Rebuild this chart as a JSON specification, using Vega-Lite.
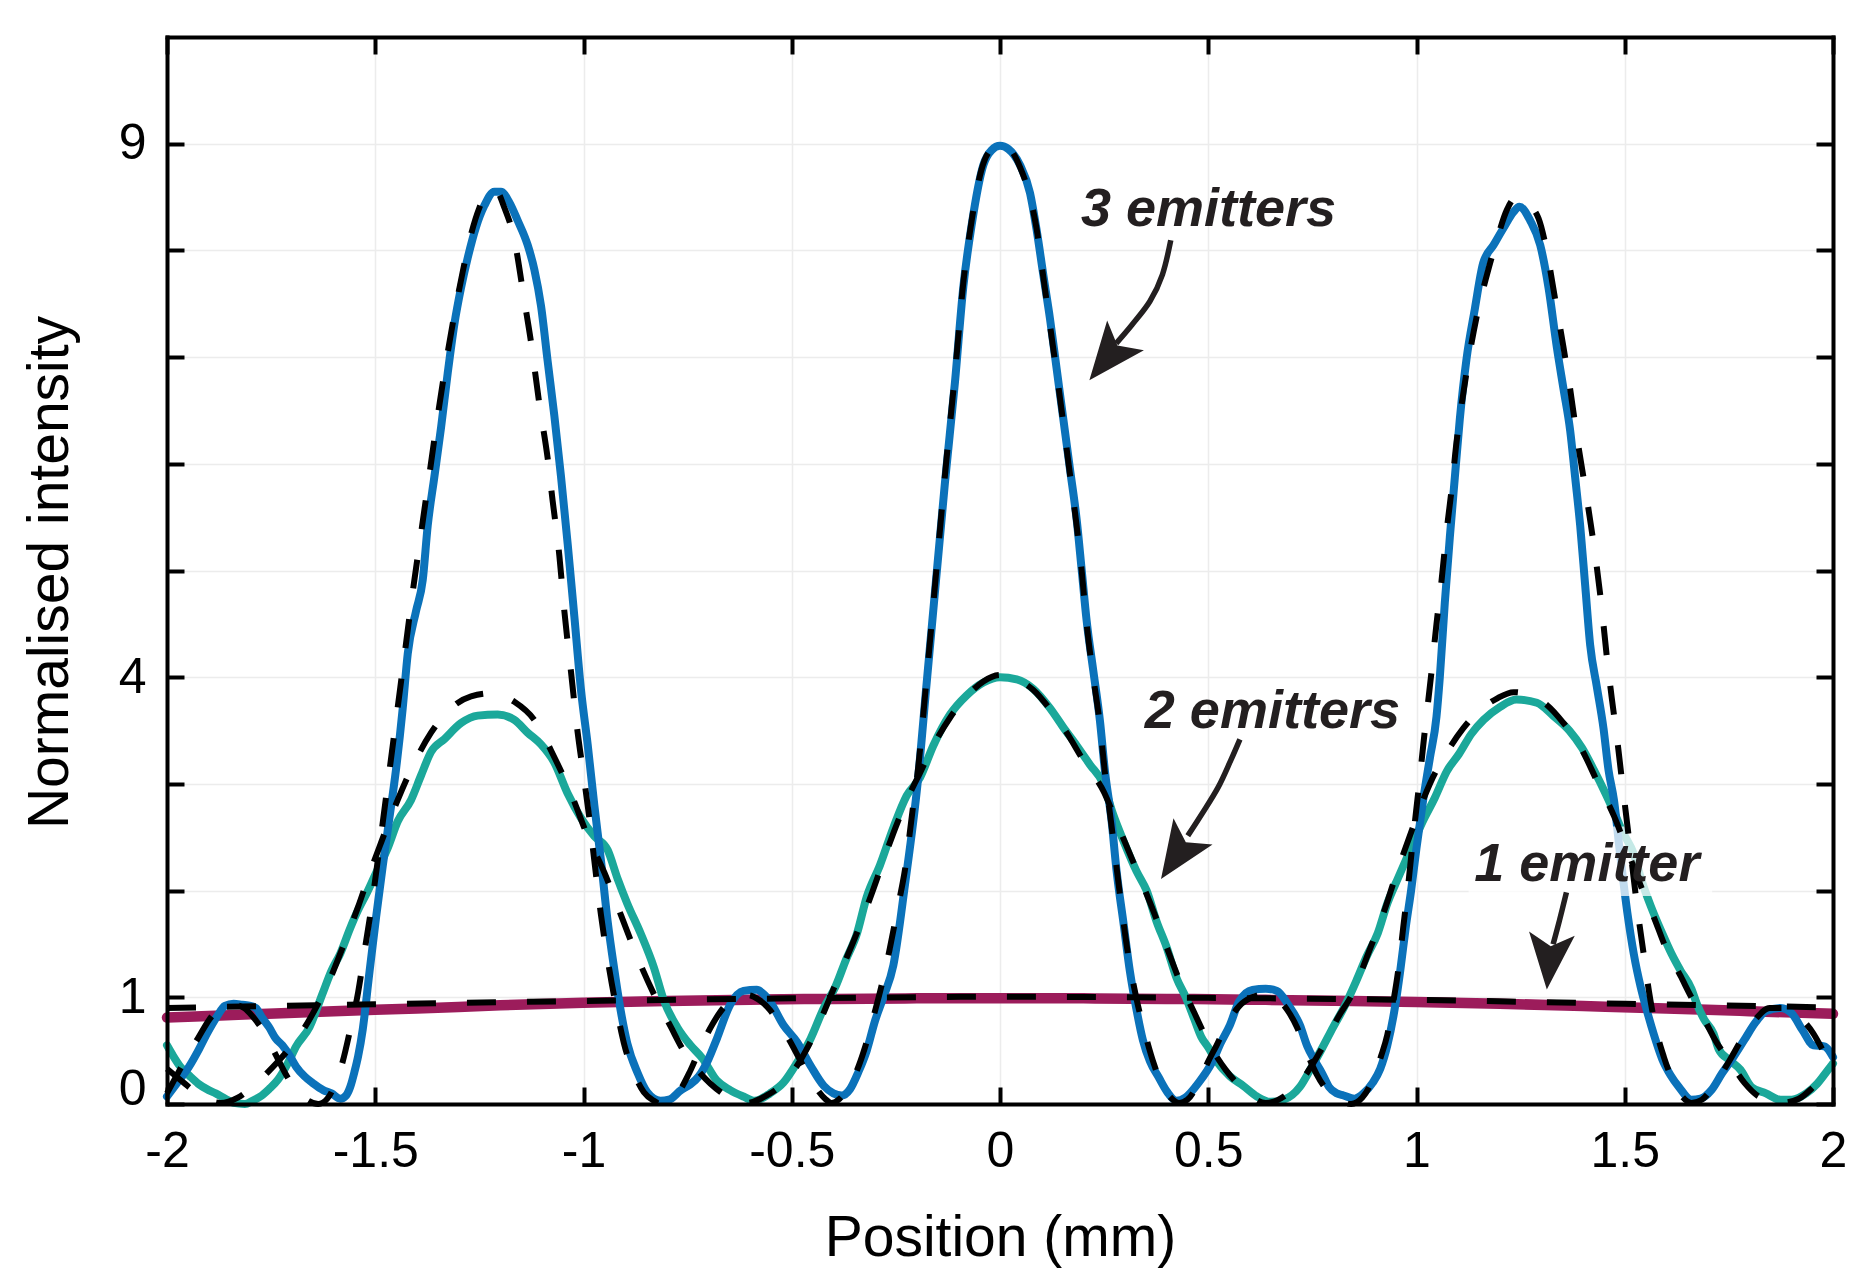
{
"$schema": "https://vega.github.io/schema/vega-lite/v6.json",
"width": 1666, "height": 1067,
"autosize": {"type": "none"},
"padding": {"left": 167, "top": 37, "right": 38, "bottom": 175},
"background": "white",
"config": {"view": {"stroke": null}, "font": "Liberation Sans"},
"datasets": {
"m1": [{"x":-2,"y":0.81},{"x":-1.8,"y":0.84},{"x":-1.6,"y":0.87},{"x":-1.4,"y":0.895},{"x":-1.2,"y":0.925},{"x":-1,"y":0.95},{"x":-0.8,"y":0.965},{"x":-0.6,"y":0.978},{"x":-0.4,"y":0.985},{"x":-0.2,"y":0.99},{"x":0,"y":0.99},{"x":0.2,"y":0.99},{"x":0.4,"y":0.985},{"x":0.6,"y":0.978},{"x":0.8,"y":0.968},{"x":1,"y":0.955},{"x":1.2,"y":0.94},{"x":1.4,"y":0.918},{"x":1.6,"y":0.895},{"x":1.8,"y":0.87},{"x":2,"y":0.845}],
"t1": [{"x":-2,"y":0.9},{"x":-1.5,"y":0.935},{"x":-1,"y":0.965},{"x":-0.5,"y":0.99},{"x":0,"y":1.005},{"x":0.5,"y":0.995},{"x":1,"y":0.975},{"x":1.5,"y":0.94},{"x":2,"y":0.905}],
"m2": [{"x":-2,"y":0.55},{"x":-1.985,"y":0.45},{"x":-1.968,"y":0.35},{"x":-1.945,"y":0.26},{"x":-1.925,"y":0.19},{"x":-1.9,"y":0.13},{"x":-1.883,"y":0.1},{"x":-1.86,"y":0.05},{"x":-1.84,"y":0.01},{"x":-1.813,"y":0},{"x":-1.795,"y":0.03},{"x":-1.776,"y":0.07},{"x":-1.755,"y":0.14},{"x":-1.733,"y":0.23},{"x":-1.71,"y":0.38},{"x":-1.69,"y":0.54},{"x":-1.658,"y":0.72},{"x":-1.626,"y":1.04},{"x":-1.605,"y":1.25},{"x":-1.584,"y":1.41},{"x":-1.56,"y":1.65},{"x":-1.541,"y":1.82},{"x":-1.52,"y":1.98},{"x":-1.5,"y":2.15},{"x":-1.47,"y":2.4},{"x":-1.446,"y":2.65},{"x":-1.414,"y":2.85},{"x":-1.39,"y":3.08},{"x":-1.366,"y":3.3},{"x":-1.334,"y":3.42},{"x":-1.294,"y":3.57},{"x":-1.254,"y":3.64},{"x":-1.206,"y":3.65},{"x":-1.166,"y":3.6},{"x":-1.134,"y":3.48},{"x":-1.102,"y":3.37},{"x":-1.07,"y":3.2},{"x":-1.038,"y":2.91},{"x":-1.006,"y":2.68},{"x":-0.974,"y":2.51},{"x":-0.942,"y":2.38},{"x":-0.918,"y":2.11},{"x":-0.895,"y":1.88},{"x":-0.863,"y":1.6},{"x":-0.831,"y":1.28},{"x":-0.807,"y":0.97},{"x":-0.775,"y":0.72},{"x":-0.743,"y":0.55},{"x":-0.715,"y":0.43},{"x":-0.68,"y":0.22},{"x":-0.648,"y":0.13},{"x":-0.616,"y":0.07},{"x":-0.589,"y":0.03},{"x":-0.552,"y":0.1},{"x":-0.52,"y":0.2},{"x":-0.487,"y":0.39},{"x":-0.455,"y":0.61},{"x":-0.423,"y":0.9},{"x":-0.395,"y":1.1},{"x":-0.37,"y":1.35},{"x":-0.344,"y":1.59},{"x":-0.32,"y":1.94},{"x":-0.288,"y":2.24},{"x":-0.256,"y":2.59},{"x":-0.224,"y":2.89},{"x":-0.192,"y":3.06},{"x":-0.16,"y":3.36},{"x":-0.12,"y":3.65},{"x":-0.08,"y":3.83},{"x":-0.04,"y":3.95},{"x":0,"y":4},{"x":0.04,"y":3.98},{"x":0.08,"y":3.89},{"x":0.12,"y":3.71},{"x":0.152,"y":3.53},{"x":0.184,"y":3.36},{"x":0.216,"y":3.18},{"x":0.248,"y":3},{"x":0.272,"y":2.71},{"x":0.296,"y":2.47},{"x":0.328,"y":2.18},{"x":0.352,"y":2},{"x":0.376,"y":1.71},{"x":0.4,"y":1.47},{"x":0.424,"y":1.18},{"x":0.446,"y":1},{"x":0.466,"y":0.8},{"x":0.483,"y":0.63},{"x":0.5,"y":0.53},{"x":0.52,"y":0.4},{"x":0.552,"y":0.26},{"x":0.584,"y":0.17},{"x":0.617,"y":0.07},{"x":0.649,"y":0.02},{"x":0.681,"y":0.04},{"x":0.72,"y":0.16},{"x":0.746,"y":0.33},{"x":0.773,"y":0.52},{"x":0.8,"y":0.72},{"x":0.828,"y":0.92},{"x":0.855,"y":1.15},{"x":0.88,"y":1.38},{"x":0.907,"y":1.6},{"x":0.93,"y":1.88},{"x":0.956,"y":2.12},{"x":0.985,"y":2.38},{"x":1.014,"y":2.64},{"x":1.044,"y":2.87},{"x":1.073,"y":3.12},{"x":1.102,"y":3.28},{"x":1.132,"y":3.47},{"x":1.161,"y":3.6},{"x":1.2,"y":3.72},{"x":1.24,"y":3.79},{"x":1.289,"y":3.76},{"x":1.328,"y":3.64},{"x":1.367,"y":3.5},{"x":1.397,"y":3.34},{"x":1.426,"y":3.13},{"x":1.455,"y":2.9},{"x":1.475,"y":2.73},{"x":1.495,"y":2.55},{"x":1.522,"y":2.34},{"x":1.54,"y":2.1},{"x":1.563,"y":1.85},{"x":1.59,"y":1.6},{"x":1.612,"y":1.41},{"x":1.634,"y":1.25},{"x":1.66,"y":1.08},{"x":1.673,"y":0.94},{"x":1.691,"y":0.79},{"x":1.713,"y":0.66},{"x":1.726,"y":0.51},{"x":1.752,"y":0.41},{"x":1.778,"y":0.32},{"x":1.804,"y":0.16},{"x":1.839,"y":0.1},{"x":1.874,"y":0.04},{"x":1.901,"y":0.04},{"x":1.936,"y":0.1},{"x":1.962,"y":0.19},{"x":1.988,"y":0.32},{"x":2,"y":0.38}],
"t2": [{"x":-2,"y":0.33},{"x":-1.96,"y":0.2},{"x":-1.92,"y":0.08},{"x":-1.872,"y":0.01},{"x":-1.83,"y":0.06},{"x":-1.787,"y":0.19},{"x":-1.76,"y":0.29},{"x":-1.733,"y":0.4},{"x":-1.7,"y":0.55},{"x":-1.669,"y":0.72},{"x":-1.64,"y":0.92},{"x":-1.61,"y":1.16},{"x":-1.575,"y":1.5},{"x":-1.541,"y":1.85},{"x":-1.51,"y":2.2},{"x":-1.486,"y":2.45},{"x":-1.446,"y":2.85},{"x":-1.406,"y":3.2},{"x":-1.366,"y":3.48},{"x":-1.318,"y":3.71},{"x":-1.27,"y":3.82},{"x":-1.22,"y":3.85},{"x":-1.166,"y":3.77},{"x":-1.118,"y":3.6},{"x":-1.07,"y":3.25},{"x":-1.03,"y":2.91},{"x":-0.99,"y":2.51},{"x":-0.95,"y":2.17},{"x":-0.91,"y":1.77},{"x":-0.87,"y":1.37},{"x":-0.831,"y":1.03},{"x":-0.79,"y":0.72},{"x":-0.76,"y":0.5},{"x":-0.72,"y":0.29},{"x":-0.67,"y":0.11},{"x":-0.61,"y":0.01},{"x":-0.56,"y":0.08},{"x":-0.509,"y":0.24},{"x":-0.466,"y":0.5},{"x":-0.435,"y":0.75},{"x":-0.408,"y":1},{"x":-0.376,"y":1.3},{"x":-0.344,"y":1.6},{"x":-0.31,"y":1.95},{"x":-0.28,"y":2.28},{"x":-0.25,"y":2.6},{"x":-0.22,"y":2.88},{"x":-0.19,"y":3.12},{"x":-0.16,"y":3.36},{"x":-0.12,"y":3.62},{"x":-0.08,"y":3.82},{"x":-0.04,"y":3.96},{"x":0,"y":4.02},{"x":0.04,"y":3.98},{"x":0.08,"y":3.88},{"x":0.12,"y":3.7},{"x":0.16,"y":3.48},{"x":0.2,"y":3.22},{"x":0.25,"y":2.92},{"x":0.28,"y":2.64},{"x":0.31,"y":2.36},{"x":0.34,"y":2.08},{"x":0.375,"y":1.74},{"x":0.405,"y":1.42},{"x":0.435,"y":1.12},{"x":0.466,"y":0.86},{"x":0.5,"y":0.58},{"x":0.542,"y":0.32},{"x":0.584,"y":0.14},{"x":0.638,"y":0.01},{"x":0.692,"y":0.1},{"x":0.72,"y":0.2},{"x":0.75,"y":0.37},{"x":0.78,"y":0.57},{"x":0.81,"y":0.8},{"x":0.848,"y":1.05},{"x":0.88,"y":1.37},{"x":0.92,"y":1.78},{"x":0.952,"y":2.16},{"x":0.992,"y":2.6},{"x":1.032,"y":3},{"x":1.072,"y":3.29},{"x":1.112,"y":3.52},{"x":1.152,"y":3.69},{"x":1.193,"y":3.8},{"x":1.233,"y":3.86},{"x":1.273,"y":3.83},{"x":1.313,"y":3.74},{"x":1.353,"y":3.57},{"x":1.393,"y":3.35},{"x":1.433,"y":3.03},{"x":1.474,"y":2.7},{"x":1.506,"y":2.38},{"x":1.538,"y":2.05},{"x":1.57,"y":1.75},{"x":1.6,"y":1.45},{"x":1.634,"y":1.2},{"x":1.66,"y":1},{"x":1.69,"y":0.8},{"x":1.72,"y":0.58},{"x":1.752,"y":0.4},{"x":1.787,"y":0.2},{"x":1.822,"y":0.07},{"x":1.874,"y":0.01},{"x":1.918,"y":0.05},{"x":1.953,"y":0.16},{"x":1.979,"y":0.26},{"x":2,"y":0.35}],
"m3": [{"x":-2,"y":0.07},{"x":-1.975,"y":0.2},{"x":-1.947,"y":0.35},{"x":-1.925,"y":0.5},{"x":-1.904,"y":0.66},{"x":-1.88,"y":0.82},{"x":-1.861,"y":0.92},{"x":-1.84,"y":0.94},{"x":-1.819,"y":0.93},{"x":-1.8,"y":0.92},{"x":-1.787,"y":0.9},{"x":-1.77,"y":0.8},{"x":-1.755,"y":0.72},{"x":-1.74,"y":0.62},{"x":-1.723,"y":0.55},{"x":-1.705,"y":0.45},{"x":-1.69,"y":0.35},{"x":-1.67,"y":0.26},{"x":-1.648,"y":0.19},{"x":-1.625,"y":0.13},{"x":-1.605,"y":0.1},{"x":-1.584,"y":0.05},{"x":-1.57,"y":0.08},{"x":-1.56,"y":0.16},{"x":-1.55,"y":0.3},{"x":-1.541,"y":0.45},{"x":-1.53,"y":0.7},{"x":-1.515,"y":1.2},{"x":-1.498,"y":1.75},{"x":-1.482,"y":2.23},{"x":-1.466,"y":2.68},{"x":-1.45,"y":3.14},{"x":-1.434,"y":3.71},{"x":-1.422,"y":4.22},{"x":-1.402,"y":4.62},{"x":-1.386,"y":4.91},{"x":-1.374,"y":5.42},{"x":-1.358,"y":5.88},{"x":-1.342,"y":6.34},{"x":-1.326,"y":6.85},{"x":-1.31,"y":7.31},{"x":-1.294,"y":7.65},{"x":-1.278,"y":7.93},{"x":-1.258,"y":8.22},{"x":-1.238,"y":8.42},{"x":-1.214,"y":8.55},{"x":-1.198,"y":8.55},{"x":-1.178,"y":8.45},{"x":-1.158,"y":8.28},{"x":-1.134,"y":8.05},{"x":-1.118,"y":7.82},{"x":-1.102,"y":7.48},{"x":-1.086,"y":6.96},{"x":-1.07,"y":6.45},{"x":-1.054,"y":5.88},{"x":-1.038,"y":5.25},{"x":-1.022,"y":4.57},{"x":-1.006,"y":3.88},{"x":-0.99,"y":3.37},{"x":-0.974,"y":2.8},{"x":-0.958,"y":2.28},{"x":-0.942,"y":1.71},{"x":-0.926,"y":1.26},{"x":-0.91,"y":0.86},{"x":-0.895,"y":0.57},{"x":-0.87,"y":0.29},{"x":-0.847,"y":0.11},{"x":-0.815,"y":0.03},{"x":-0.795,"y":0.04},{"x":-0.766,"y":0.13},{"x":-0.745,"y":0.18},{"x":-0.723,"y":0.26},{"x":-0.7,"y":0.42},{"x":-0.68,"y":0.61},{"x":-0.648,"y":0.93},{"x":-0.616,"y":1.06},{"x":-0.584,"y":1.07},{"x":-0.565,"y":1.02},{"x":-0.552,"y":0.96},{"x":-0.52,"y":0.74},{"x":-0.487,"y":0.58},{"x":-0.455,"y":0.36},{"x":-0.423,"y":0.17},{"x":-0.4,"y":0.1},{"x":-0.38,"y":0.08},{"x":-0.36,"y":0.14},{"x":-0.34,"y":0.3},{"x":-0.32,"y":0.5},{"x":-0.3,"y":0.78},{"x":-0.28,"y":1},{"x":-0.256,"y":1.3},{"x":-0.228,"y":2.06},{"x":-0.198,"y":3},{"x":-0.176,"y":3.95},{"x":-0.154,"y":4.89},{"x":-0.132,"y":5.83},{"x":-0.108,"y":6.77},{"x":-0.088,"y":7.66},{"x":-0.068,"y":8.24},{"x":-0.04,"y":8.8},{"x":-0.02,"y":8.94},{"x":0,"y":8.98},{"x":0.02,"y":8.95},{"x":0.048,"y":8.8},{"x":0.072,"y":8.54},{"x":0.088,"y":8.19},{"x":0.104,"y":7.77},{"x":0.12,"y":7.36},{"x":0.136,"y":6.89},{"x":0.152,"y":6.42},{"x":0.168,"y":5.95},{"x":0.184,"y":5.48},{"x":0.196,"y":5.01},{"x":0.208,"y":4.53},{"x":0.224,"y":4.06},{"x":0.24,"y":3.59},{"x":0.252,"y":3.12},{"x":0.268,"y":2.65},{"x":0.28,"y":2.18},{"x":0.296,"y":1.71},{"x":0.312,"y":1.24},{"x":0.327,"y":0.9},{"x":0.343,"y":0.6},{"x":0.36,"y":0.4},{"x":0.381,"y":0.25},{"x":0.402,"y":0.11},{"x":0.424,"y":0.03},{"x":0.445,"y":0.06},{"x":0.477,"y":0.2},{"x":0.509,"y":0.39},{"x":0.531,"y":0.58},{"x":0.552,"y":0.74},{"x":0.574,"y":0.96},{"x":0.606,"y":1.07},{"x":0.638,"y":1.08},{"x":0.665,"y":1.06},{"x":0.692,"y":0.93},{"x":0.72,"y":0.74},{"x":0.738,"y":0.54},{"x":0.755,"y":0.41},{"x":0.773,"y":0.29},{"x":0.79,"y":0.16},{"x":0.808,"y":0.1},{"x":0.825,"y":0.08},{"x":0.851,"y":0.05},{"x":0.873,"y":0.1},{"x":0.895,"y":0.2},{"x":0.913,"y":0.33},{"x":0.93,"y":0.55},{"x":0.948,"y":0.9},{"x":0.961,"y":1.25},{"x":0.974,"y":1.65},{"x":0.987,"y":2},{"x":1,"y":2.4},{"x":1.016,"y":2.85},{"x":1.032,"y":3.24},{"x":1.048,"y":3.63},{"x":1.056,"y":4},{"x":1.068,"y":4.7},{"x":1.08,"y":5.31},{"x":1.092,"y":5.87},{"x":1.104,"y":6.42},{"x":1.12,"y":6.98},{"x":1.14,"y":7.45},{"x":1.16,"y":7.88},{"x":1.185,"y":8.05},{"x":1.209,"y":8.21},{"x":1.233,"y":8.36},{"x":1.247,"y":8.41},{"x":1.273,"y":8.28},{"x":1.297,"y":8.05},{"x":1.317,"y":7.65},{"x":1.337,"y":7.09},{"x":1.353,"y":6.7},{"x":1.369,"y":6.31},{"x":1.381,"y":5.87},{"x":1.393,"y":5.42},{"x":1.405,"y":4.86},{"x":1.417,"y":4.3},{"x":1.433,"y":3.91},{"x":1.449,"y":3.52},{"x":1.461,"y":3.13},{"x":1.474,"y":2.85},{"x":1.49,"y":2.3},{"x":1.506,"y":1.8},{"x":1.522,"y":1.4},{"x":1.538,"y":1.1},{"x":1.555,"y":0.85},{"x":1.57,"y":0.65},{"x":1.59,"y":0.42},{"x":1.61,"y":0.27},{"x":1.63,"y":0.16},{"x":1.66,"y":0.04},{"x":1.682,"y":0.05},{"x":1.708,"y":0.13},{"x":1.734,"y":0.29},{"x":1.761,"y":0.44},{"x":1.787,"y":0.6},{"x":1.813,"y":0.76},{"x":1.839,"y":0.87},{"x":1.874,"y":0.9},{"x":1.901,"y":0.85},{"x":1.927,"y":0.69},{"x":1.953,"y":0.55},{"x":1.979,"y":0.54},{"x":2,"y":0.44}],
"t3": [{"x":-2,"y":0.1},{"x":-1.975,"y":0.28},{"x":-1.957,"y":0.41},{"x":-1.925,"y":0.62},{"x":-1.893,"y":0.82},{"x":-1.865,"y":0.91},{"x":-1.84,"y":0.93},{"x":-1.815,"y":0.9},{"x":-1.79,"y":0.8},{"x":-1.765,"y":0.66},{"x":-1.74,"y":0.47},{"x":-1.712,"y":0.26},{"x":-1.685,"y":0.11},{"x":-1.66,"y":0.03},{"x":-1.637,"y":0},{"x":-1.615,"y":0.05},{"x":-1.595,"y":0.2},{"x":-1.578,"y":0.4},{"x":-1.56,"y":0.7},{"x":-1.541,"y":1.05},{"x":-1.525,"y":1.45},{"x":-1.509,"y":1.85},{"x":-1.49,"y":2.4},{"x":-1.47,"y":3},{"x":-1.45,"y":3.6},{"x":-1.43,"y":4.2},{"x":-1.41,"y":4.8},{"x":-1.39,"y":5.35},{"x":-1.37,"y":5.9},{"x":-1.35,"y":6.45},{"x":-1.33,"y":6.95},{"x":-1.31,"y":7.4},{"x":-1.29,"y":7.8},{"x":-1.27,"y":8.15},{"x":-1.25,"y":8.4},{"x":-1.23,"y":8.55},{"x":-1.21,"y":8.56},{"x":-1.19,"y":8.4},{"x":-1.166,"y":8.1},{"x":-1.142,"y":7.53},{"x":-1.126,"y":7.14},{"x":-1.106,"y":6.56},{"x":-1.086,"y":6.05},{"x":-1.074,"y":5.65},{"x":-1.058,"y":5.14},{"x":-1.046,"y":4.62},{"x":-1.03,"y":4.05},{"x":-1.014,"y":3.48},{"x":-1.002,"y":3.14},{"x":-0.986,"y":2.68},{"x":-0.974,"y":2.28},{"x":-0.958,"y":1.77},{"x":-0.938,"y":1.26},{"x":-0.919,"y":0.86},{"x":-0.903,"y":0.57},{"x":-0.879,"y":0.29},{"x":-0.855,"y":0.11},{"x":-0.831,"y":0.03},{"x":-0.815,"y":0},{"x":-0.795,"y":0.03},{"x":-0.77,"y":0.12},{"x":-0.745,"y":0.3},{"x":-0.72,"y":0.52},{"x":-0.69,"y":0.75},{"x":-0.66,"y":0.92},{"x":-0.63,"y":1},{"x":-0.605,"y":1.02},{"x":-0.58,"y":0.98},{"x":-0.552,"y":0.88},{"x":-0.53,"y":0.75},{"x":-0.509,"y":0.62},{"x":-0.477,"y":0.39},{"x":-0.445,"y":0.17},{"x":-0.42,"y":0.05},{"x":-0.405,"y":0.01},{"x":-0.385,"y":0.05},{"x":-0.365,"y":0.15},{"x":-0.345,"y":0.3},{"x":-0.325,"y":0.52},{"x":-0.305,"y":0.8},{"x":-0.285,"y":1.1},{"x":-0.265,"y":1.45},{"x":-0.245,"y":1.85},{"x":-0.228,"y":2.2},{"x":-0.21,"y":2.75},{"x":-0.198,"y":3.1},{"x":-0.176,"y":4},{"x":-0.154,"y":4.95},{"x":-0.132,"y":5.9},{"x":-0.108,"y":6.85},{"x":-0.088,"y":7.7},{"x":-0.068,"y":8.28},{"x":-0.045,"y":8.75},{"x":-0.02,"y":8.95},{"x":0,"y":8.98},{"x":0.02,"y":8.96},{"x":0.048,"y":8.78},{"x":0.072,"y":8.5},{"x":0.088,"y":8.2},{"x":0.104,"y":7.75},{"x":0.12,"y":7.3},{"x":0.136,"y":6.85},{"x":0.152,"y":6.38},{"x":0.168,"y":5.9},{"x":0.184,"y":5.42},{"x":0.196,"y":5},{"x":0.208,"y":4.5},{"x":0.224,"y":4},{"x":0.24,"y":3.55},{"x":0.252,"y":3.1},{"x":0.268,"y":2.6},{"x":0.282,"y":2.15},{"x":0.296,"y":1.72},{"x":0.306,"y":1.44},{"x":0.327,"y":1},{"x":0.349,"y":0.65},{"x":0.37,"y":0.37},{"x":0.39,"y":0.17},{"x":0.41,"y":0.06},{"x":0.43,"y":0.01},{"x":0.45,"y":0.04},{"x":0.477,"y":0.2},{"x":0.5,"y":0.4},{"x":0.52,"y":0.55},{"x":0.545,"y":0.75},{"x":0.575,"y":0.92},{"x":0.605,"y":1},{"x":0.638,"y":1.03},{"x":0.665,"y":0.99},{"x":0.69,"y":0.88},{"x":0.713,"y":0.72},{"x":0.735,"y":0.5},{"x":0.76,"y":0.28},{"x":0.785,"y":0.13},{"x":0.81,"y":0.05},{"x":0.843,"y":0},{"x":0.87,"y":0.06},{"x":0.896,"y":0.24},{"x":0.915,"y":0.45},{"x":0.93,"y":0.65},{"x":0.944,"y":0.95},{"x":0.956,"y":1.25},{"x":0.968,"y":1.65},{"x":0.98,"y":2.05},{"x":0.992,"y":2.5},{"x":1.005,"y":2.95},{"x":1.02,"y":3.5},{"x":1.036,"y":4.05},{"x":1.048,"y":4.5},{"x":1.06,"y":4.9},{"x":1.072,"y":5.36},{"x":1.084,"y":5.75},{"x":1.096,"y":6.2},{"x":1.112,"y":6.65},{"x":1.128,"y":7.04},{"x":1.144,"y":7.37},{"x":1.169,"y":7.77},{"x":1.193,"y":8.1},{"x":1.217,"y":8.38},{"x":1.237,"y":8.49},{"x":1.265,"y":8.44},{"x":1.293,"y":8.3},{"x":1.313,"y":7.99},{"x":1.333,"y":7.54},{"x":1.353,"y":7.09},{"x":1.369,"y":6.7},{"x":1.385,"y":6.26},{"x":1.401,"y":5.87},{"x":1.417,"y":5.47},{"x":1.433,"y":5.03},{"x":1.445,"y":4.64},{"x":1.457,"y":4.19},{"x":1.469,"y":3.8},{"x":1.482,"y":3.41},{"x":1.494,"y":3.01},{"x":1.506,"y":2.62},{"x":1.518,"y":2.23},{"x":1.53,"y":1.84},{"x":1.546,"y":1.39},{"x":1.558,"y":1.06},{"x":1.574,"y":0.72},{"x":1.594,"y":0.44},{"x":1.618,"y":0.2},{"x":1.64,"y":0.06},{"x":1.66,"y":0.01},{"x":1.685,"y":0.04},{"x":1.717,"y":0.19},{"x":1.752,"y":0.41},{"x":1.783,"y":0.62},{"x":1.813,"y":0.79},{"x":1.848,"y":0.9},{"x":1.883,"y":0.9},{"x":1.918,"y":0.82},{"x":1.953,"y":0.66},{"x":1.979,"y":0.48},{"x":2,"y":0.35}],
"labels": [{"x":0.5006,"y":8.232,"t":"3 emitters"},{"x":0.654,"y":3.52,"t":"2 emitters"},{"x":1.409,"y":2.094,"t":"1 emitter"}],
"shafts": [{"a":"3","i":0,"x":0.41,"y":8.095},{"a":"3","i":1,"x":0.39,"y":7.774},{"a":"3","i":2,"x":0.36,"y":7.523},{"a":"3","i":3,"x":0.317,"y":7.303},{"a":"3","i":4,"x":0.279,"y":7.129},{"a":"2","i":0,"x":0.576,"y":3.418},{"a":"2","i":1,"x":0.554,"y":3.221},{"a":"2","i":2,"x":0.524,"y":2.97},{"a":"2","i":3,"x":0.485,"y":2.72},{"a":"2","i":4,"x":0.451,"y":2.515},{"a":"1","i":0,"x":1.36,"y":1.983},{"a":"1","i":1,"x":1.343,"y":1.716},{"a":"1","i":2,"x":1.328,"y":1.497}],
"box": [{"x1":1.125,"x2":1.71,"y1":1.95,"y2":2.6}]
},
"resolve": {"axis": {"x": "independent", "y": "independent"}},
"layer": [
{"data": {"name": "m1"},
 "mark": {"type": "line", "color": "#9c1c5b", "strokeWidth": 10.5, "interpolate": "monotone", "strokeCap": "round"},
 "encoding": {
  "x": {"field": "x", "type": "quantitative", "scale": {"domain": [-2, 2], "nice": false, "zero": false},
   "axis": {"orient": "bottom", "values": [-2,-1.5,-1,-0.5,0,0.5,1,1.5,2], "grid": true, "gridColor": "#ececec", "gridWidth": 1.5, "domain": false, "ticks": false, "tickSize": 0, "labelFont": "Liberation Sans", "labelFontSize": 50, "labelColor": "#000000", "labelPadding": 22, "labelFlush": false, "labelOverlap": false, "labelExpr": "(datum.value < 0 ? '-' : '') + format(abs(datum.value), '~g')", "title": "Position (mm)", "titleFont": "Liberation Sans", "titleFontSize": 57, "titleFontWeight": "normal", "titleColor": "#000000", "titleX": 833, "titleY": 151, "titleBaseline": "alphabetic", "titleAlign": "center", "zindex": 0}},
  "y": {"field": "y", "type": "quantitative", "scale": {"domain": [0, 10], "nice": false, "zero": false},
   "axis": {"orient": "left", "values": [0,1,2,3,4,5,6,7,8,9], "grid": true, "gridColor": "#ececec", "gridWidth": 1.5, "domain": false, "ticks": false, "tickSize": 0, "labelFont": "Liberation Sans", "labelFontSize": 50, "labelColor": "#000000", "labelPadding": 21, "labelFlush": true, "labelFlushOffset": 10, "labelOverlap": false, "labelExpr": "indexof([0,1,4,9], datum.value) >= 0 ? datum.label : ''", "title": "Normalised intensity", "titleFont": "Liberation Sans", "titleFontSize": 57, "titleFontWeight": "normal", "titleColor": "#000000", "titleX": -100, "titleY": 535, "titleAngle": -90, "titleBaseline": "alphabetic", "titleAlign": "center", "zindex": 0}}
 }},
{"data": {"name": "m2"},
 "mark": {"type": "line", "color": "#1ba89a", "strokeWidth": 8, "interpolate": "monotone", "strokeCap": "round", "strokeJoin": "round"},
 "encoding": {
  "x": {"field": "x", "type": "quantitative", "scale": {"domain": [-2, 2], "nice": false, "zero": false}, "axis": null},
  "y": {"field": "y", "type": "quantitative", "scale": {"domain": [0, 10], "nice": false, "zero": false}, "axis": null}
 }},
{"data": {"name": "m3"},
 "mark": {"type": "line", "color": "#0b72ba", "strokeWidth": 8, "interpolate": "monotone", "strokeCap": "round", "strokeJoin": "round"},
 "encoding": {
  "x": {"field": "x", "type": "quantitative", "scale": {"domain": [-2, 2], "nice": false, "zero": false}, "axis": null},
  "y": {"field": "y", "type": "quantitative", "scale": {"domain": [0, 10], "nice": false, "zero": false}, "axis": null}
 }},
{"data": {"name": "box"},
 "mark": {"type": "rect", "color": "#ffffff", "opacity": 0.75},
 "encoding": {
  "x": {"field": "x1", "type": "quantitative", "scale": {"domain": [-2, 2], "nice": false, "zero": false}, "axis": null},
  "x2": {"field": "x2"},
  "y": {"field": "y1", "type": "quantitative", "scale": {"domain": [0, 10], "nice": false, "zero": false}, "axis": null},
  "y2": {"field": "y2"}
 }},
{"data": {"name": "t1"},
 "mark": {"type": "line", "color": "#000000", "strokeWidth": 6, "strokeDash": [29, 31], "interpolate": "monotone"},
 "encoding": {
  "x": {"field": "x", "type": "quantitative", "scale": {"domain": [-2, 2], "nice": false, "zero": false},
   "axis": {"orient": "bottom", "values": [-2,-1.5,-1,-0.5,0,0.5,1,1.5,2], "grid": false, "labels": false, "title": null, "domain": true, "domainColor": "#000000", "domainWidth": 4, "domainCap": "square", "ticks": true, "tickSize": -17, "tickWidth": 4, "tickColor": "#000000", "zindex": 1}},
  "y": {"field": "y", "type": "quantitative", "scale": {"domain": [0, 10], "nice": false, "zero": false},
   "axis": {"orient": "left", "values": [0,1,2,3,4,5,6,7,8,9], "grid": false, "labels": false, "title": null, "domain": true, "domainColor": "#000000", "domainWidth": 4, "domainCap": "square", "ticks": true, "tickSize": -17, "tickWidth": 4, "tickColor": "#000000", "zindex": 1}}
 }},
{"data": {"name": "t2"},
 "mark": {"type": "line", "color": "#000000", "strokeWidth": 6, "strokeDash": [29, 31], "interpolate": "monotone"},
 "encoding": {
  "x": {"field": "x", "type": "quantitative", "scale": {"domain": [-2, 2], "nice": false, "zero": false}, "axis": null},
  "y": {"field": "y", "type": "quantitative", "scale": {"domain": [0, 10], "nice": false, "zero": false}, "axis": null}
 }},
{"data": {"name": "t3"},
 "mark": {"type": "line", "color": "#000000", "strokeWidth": 6, "strokeDash": [29, 31], "interpolate": "monotone"},
 "encoding": {
  "x": {"field": "x", "type": "quantitative", "scale": {"domain": [-2, 2], "nice": false, "zero": false},
   "axis": {"orient": "top", "values": [-2,-1.5,-1,-0.5,0,0.5,1,1.5,2], "grid": false, "labels": false, "title": null, "domain": true, "domainColor": "#000000", "domainWidth": 4, "domainCap": "square", "ticks": true, "tickSize": -17, "tickWidth": 4, "tickColor": "#000000", "zindex": 1}},
  "y": {"field": "y", "type": "quantitative", "scale": {"domain": [0, 10], "nice": false, "zero": false},
   "axis": {"orient": "right", "values": [0,1,2,3,4,5,6,7,8,9], "grid": false, "labels": false, "title": null, "domain": true, "domainColor": "#000000", "domainWidth": 4, "domainCap": "square", "ticks": true, "tickSize": -17, "tickWidth": 4, "tickColor": "#000000", "zindex": 1}}
 }},
{"data": {"name": "labels"},
 "mark": {"type": "text", "font": "Liberation Sans", "fontSize": 54, "fontWeight": "bold", "fontStyle": "italic", "color": "#231f20", "align": "center", "baseline": "alphabetic"},
 "encoding": {
  "x": {"field": "x", "type": "quantitative", "scale": {"domain": [-2, 2], "nice": false, "zero": false}, "axis": null},
  "y": {"field": "y", "type": "quantitative", "scale": {"domain": [0, 10], "nice": false, "zero": false}, "axis": null},
  "text": {"field": "t", "type": "nominal"}
 }},
{"data": {"name": "shafts"},
 "mark": {"type": "line", "color": "#231f20", "strokeWidth": 5.5, "interpolate": "cardinal"},
 "encoding": {
  "x": {"field": "x", "type": "quantitative", "scale": {"domain": [-2, 2], "nice": false, "zero": false}, "axis": null},
  "y": {"field": "y", "type": "quantitative", "scale": {"domain": [0, 10], "nice": false, "zero": false}, "axis": null},
  "detail": {"field": "a", "type": "nominal"},
  "order": {"field": "i", "type": "quantitative"}
 }},
{"data": {"values": [{"x": 0.258, "y": 6.993}]},
 "mark": {"type": "point", "shape": "M0,-1L0.82,1L0,0.55L-0.82,1Z", "filled": true, "color": "#231f20", "opacity": 1, "size": 3318, "angle": 218.9, "strokeWidth": 0},
 "encoding": {
  "x": {"field": "x", "type": "quantitative", "scale": {"domain": [-2, 2], "nice": false, "zero": false}, "axis": null},
  "y": {"field": "y", "type": "quantitative", "scale": {"domain": [0, 10], "nice": false, "zero": false}, "axis": null}
 }},
{"data": {"values": [{"x": 0.425, "y": 2.331}]},
 "mark": {"type": "point", "shape": "M0,-1L0.82,1L0,0.55L-0.82,1Z", "filled": true, "color": "#231f20", "opacity": 1, "size": 3295, "angle": 213.9, "strokeWidth": 0},
 "encoding": {
  "x": {"field": "x", "type": "quantitative", "scale": {"domain": [-2, 2], "nice": false, "zero": false}, "axis": null},
  "y": {"field": "y", "type": "quantitative", "scale": {"domain": [0, 10], "nice": false, "zero": false}, "axis": null}
 }},
{"data": {"values": [{"x": 1.319, "y": 1.335}]},
 "mark": {"type": "point", "shape": "M0,-1L0.82,1L0,0.55L-0.82,1Z", "filled": true, "color": "#231f20", "opacity": 1, "size": 3136, "angle": 185.2, "strokeWidth": 0},
 "encoding": {
  "x": {"field": "x", "type": "quantitative", "scale": {"domain": [-2, 2], "nice": false, "zero": false}, "axis": null},
  "y": {"field": "y", "type": "quantitative", "scale": {"domain": [0, 10], "nice": false, "zero": false}, "axis": null}
 }}
]
}
